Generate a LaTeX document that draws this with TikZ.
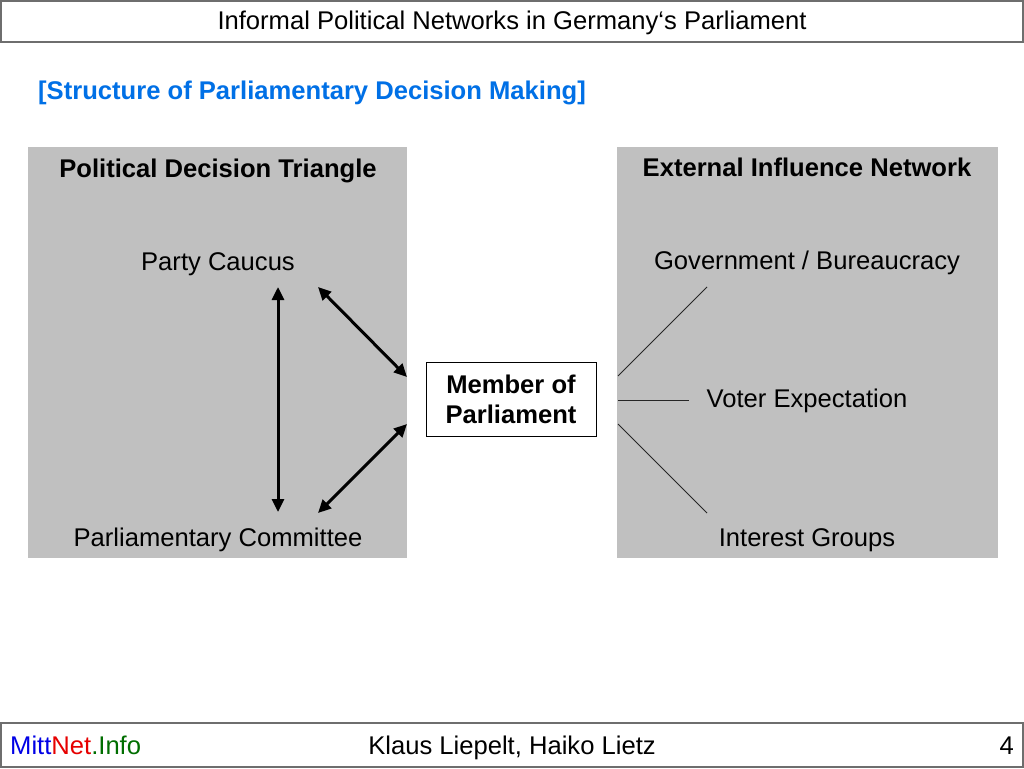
\documentclass[tikz,border=0pt]{standalone}
\usepackage{fontspec}
\setmainfont{Liberation Sans}
\usetikzlibrary{arrows.meta}
\definecolor{panelgray}{RGB}{192,192,192}
\definecolor{subblue}{RGB}{0,112,230}
\definecolor{framegray}{RGB}{110,110,110}
\definecolor{mittblue}{RGB}{0,0,230}
\definecolor{mittred}{RGB}{230,0,0}
\definecolor{mittgreen}{RGB}{0,110,0}
\tikzset{
  txt/.style={font=\fontsize{25.6}{30}\selectfont, inner sep=0pt, text height=19pt, text depth=5.5pt},
  btxt/.style={font=\fontsize{25.6}{30}\selectfont\bfseries, inner sep=0pt, text height=19pt, text depth=5.5pt},
  panel/.style={fill=panelgray, draw=none},
  dbl/.style={line width=3pt, {Triangle[length=13pt,width=12pt]}-{Triangle[length=13pt,width=12pt]}},
  thin/.style={line width=1pt, draw=black!85},
  mpbox/.style={draw=black, line width=1pt, fill=white, minimum width=170pt, minimum height=74pt, align=center, font=\fontsize{25.6}{30}\selectfont\bfseries, inner sep=0pt},
}
\begin{document}
\begin{tikzpicture}[x=1pt,y=-1pt]
\useasboundingbox (0,0) rectangle (1024,768);
\fill[white] (0,0) rectangle (1024,768);
% header and footer frames
\draw[framegray, line width=2pt] (1,1) rectangle (1023,42);
\draw[framegray, line width=2pt] (1,723) rectangle (1023,767);
\node[txt] (title) at (512,23) {Informal Political Networks in Germany‘s Parliament};
\node[btxt, text=subblue, anchor=west] (sub) at (38,93) {[Structure of Parliamentary Decision Making]};
% panels
\fill[panel] (28,147) rectangle (407,558);
\fill[panel] (617,147) rectangle (998,558);
\node[btxt] (pdt) at (218,171) {Political Decision Triangle};
\node[btxt] (ein) at (807,170) {External Influence Network};
\node[txt] (pc) at (218,264) {Party Caucus};
\node[txt] (pcom) at (218,540) {Parliamentary Committee};
\node[txt] (gov) at (807,263) {Government / Bureaucracy};
\node[txt] (voter) at (807,401) {Voter Expectation};
\node[txt] (ig) at (807,540) {Interest Groups};
\node[mpbox] (mp) at (511,399) {Member of\\Parliament};
% arrow end points
\coordinate (a1) at (278,287);
\coordinate (a2) at (278,512);
\coordinate (b1) at (318,287);
\coordinate (b2) at (407,377);
\coordinate (c1) at (407,424);
\coordinate (c2) at (318,513);
\draw[dbl] (a1) -- (a2);
\draw[dbl] (b1) -- (b2);
\draw[dbl] (c1) -- (c2);
% influence lines
\coordinate (l1s) at (618,376);
\coordinate (l1e) at (707,287);
\coordinate (l2s) at (618,400);
\coordinate (l2e) at (689,400);
\coordinate (l3s) at (618,424);
\coordinate (l3e) at (707,513);
\draw[thin] (l1s) -- (l1e);
\draw[thin] (l2s) -- (l2e);
\draw[thin] (l3s) -- (l3e);
% footer
\node[txt, anchor=west] (mitt) at (10,748) {\textcolor{mittblue}{Mitt}\textcolor{mittred}{Net}\textcolor{mittgreen}{.Info}};
\node[txt] (authors) at (512,748) {Klaus Liepelt, Haiko Lietz};
\node[txt, anchor=east] (page) at (1014,748) {4};
\end{tikzpicture}
\end{document}
